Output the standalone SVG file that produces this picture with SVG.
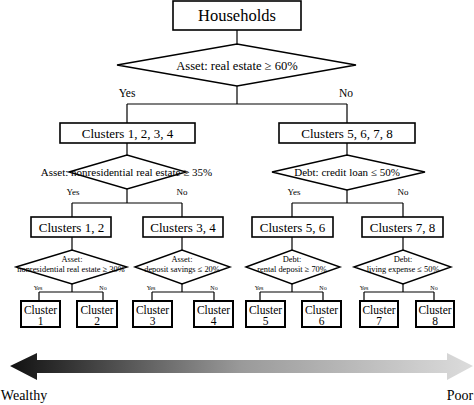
<svg xmlns="http://www.w3.org/2000/svg" width="474" height="405" viewBox="0 0 474 405" font-family="'Liberation Serif', 'DejaVu Serif', serif">
<style>
.box{fill:#fff;stroke:#000;stroke-width:1.6}
.cbox{fill:#fff;stroke:#000;stroke-width:2}
.dia{fill:#fff;stroke:#000;stroke-width:1.4}
.ln{fill:none;stroke:#000;stroke-width:1.2}
text{font-family:'Liberation Serif', 'DejaVu Serif', serif;fill:#000;text-anchor:middle}
.t1{font-size:16.5px}
.t2{font-size:12.6px}
.t3{font-size:13px}
.t4{font-size:11px}
.t5{font-size:8.4px}
.c{font-size:11.5px}
.y1{font-size:11.5px}
.y2{font-size:9px}
.y3{font-size:6px}
.e{font-size:14px}
</style>
<defs>
<linearGradient id="g" x1="10" y1="0" x2="473" y2="0" gradientUnits="userSpaceOnUse">
<stop offset="0" stop-color="#111"/>
<stop offset="0.5" stop-color="#9a9a9a"/>
<stop offset="1" stop-color="#dcdcdc"/>
</linearGradient>
</defs>
<g id="connectors">
<path class="ln" d="M237,30V44M237,86V104M127,104H347M127,104V123M347,104V123"/>
<path class="ln" d="M127,143V155M347,143V155M127,189V203M72,203H182M72,203V217M182,203V217M347,190V203M292,203H403M292,203V217M403,203V217"/>
<path class="ln" d="M72,237V250M182,237V250M292,237V250M403,237V250"/>
<path class="ln" d="M72,284V292M39,292H103M39,292V301M103,292V301"/>
<path class="ln" d="M182,284V292M152,292H214M152,292V301M214,292V301"/>
<path class="ln" d="M292,284V292M260,292H323M260,292V301M323,292V301"/>
<path class="ln" d="M403,284V292M364,292H434M364,292V301M434,292V301"/>
</g>
<g id="households"><rect class="box" x="173" y="1" width="128" height="29"/><text class="t1" x="237" y="21">Households</text></g>
<g id="d0"><polygon class="dia" points="117,65 237,44 356,65 237,86"/><text class="t2" x="237" y="69.5">Asset: real estate ≥ 60%</text></g>
<g id="lbl0"><text class="y1" x="127" y="97">Yes</text><text class="y1" x="346" y="97">No</text></g>
<g id="c1234"><rect class="box" x="60" y="123" width="135" height="20"/><text class="t3" x="127.5" y="137.5">Clusters 1, 2, 3, 4</text></g>
<g id="c5678"><rect class="box" x="279" y="123" width="136" height="20"/><text class="t3" x="347" y="137.5">Clusters 5, 6, 7, 8</text></g>
<g id="dL"><polygon class="dia" points="69,172 127,155 186,172 127,189"/><text class="t4" x="126.5" y="176">Asset: nonresidential real estate ≥ 35%</text></g>
<g id="dR"><polygon class="dia" points="272,172 347,155 425,172 347,190"/><text class="t4" x="347" y="176">Debt: credit loan ≤ 50%</text></g>
<g id="lbl1"><text class="y2" x="73" y="195">Yes</text><text class="y2" x="182" y="195">No</text><text class="y2" x="294" y="195">Yes</text><text class="y2" x="403" y="195">No</text></g>
<g id="c12"><rect class="box" x="31" y="217" width="80" height="20"/><text class="t3" x="71.5" y="232">Clusters 1, 2</text></g>
<g id="c34"><rect class="box" x="143" y="217" width="80" height="20"/><text class="t3" x="183" y="232">Clusters 3, 4</text></g>
<g id="c56"><rect class="box" x="252" y="217" width="81" height="20"/><text class="t3" x="292.5" y="232">Clusters 5, 6</text></g>
<g id="c78"><rect class="box" x="362" y="217" width="81" height="20"/><text class="t3" x="402.5" y="232">Clusters 7, 8</text></g>
<g id="d1"><polygon class="dia" points="16,267 72,250 127,267 72,284"/><text class="t5" x="72" y="262">Asset:</text><text class="t5" x="71" y="272">nonresidential real estate ≥ 30%</text></g>
<g id="d2"><polygon class="dia" points="135,267 182,250 230,267 182,284"/><text class="t5" x="182" y="262">Asset:</text><text class="t5" x="182" y="272">deposit savings ≤ 20%</text></g>
<g id="d3"><polygon class="dia" points="246,267 292,250 340,267 292,284"/><text class="t5" x="292" y="262">Debt:</text><text class="t5" x="292" y="272">rental deposit ≥ 70%</text></g>
<g id="d4"><polygon class="dia" points="354,267 403,250 451,267 403,284"/><text class="t5" x="403" y="262">Debt:</text><text class="t5" x="403" y="272">living expense ≤ 50%</text></g>
<g id="lbl2"><text class="y3" x="38" y="290">Yes</text><text class="y3" x="103" y="290">No</text><text class="y3" x="151" y="290">Yes</text><text class="y3" x="214" y="290">No</text><text class="y3" x="259" y="290">Yes</text><text class="y3" x="323" y="290">No</text><text class="y3" x="364" y="290">Yes</text><text class="y3" x="434" y="290">No</text></g>
<g id="k1"><rect class="cbox" x="21" y="301" width="39" height="26"/><text class="c" x="40.5" y="314">Cluster</text><text class="c" x="40.5" y="325">1</text></g>
<g id="k2"><rect class="cbox" x="77" y="301" width="40" height="26"/><text class="c" x="97" y="314">Cluster</text><text class="c" x="97" y="325">2</text></g>
<g id="k3"><rect class="cbox" x="133" y="301" width="39" height="26"/><text class="c" x="152.5" y="314">Cluster</text><text class="c" x="152.5" y="325">3</text></g>
<g id="k4"><rect class="cbox" x="194" y="301" width="39" height="26"/><text class="c" x="213.5" y="314">Cluster</text><text class="c" x="213.5" y="325">4</text></g>
<g id="k5"><rect class="cbox" x="246" y="301" width="39" height="26"/><text class="c" x="265.5" y="314">Cluster</text><text class="c" x="265.5" y="325">5</text></g>
<g id="k6"><rect class="cbox" x="302" y="301" width="39" height="26"/><text class="c" x="321.5" y="314">Cluster</text><text class="c" x="321.5" y="325">6</text></g>
<g id="k7"><rect class="cbox" x="360" y="301" width="38" height="26"/><text class="c" x="379" y="314">Cluster</text><text class="c" x="379" y="325">7</text></g>
<g id="k8"><rect class="cbox" x="416" y="301" width="38" height="26"/><text class="c" x="435" y="314">Cluster</text><text class="c" x="435" y="325">8</text></g>
<g id="scale">
<polygon fill="url(#g)" points="10,366 37,353 37,360 447,360 447,353 473,366 447,380 447,373 37,373 37,380"/>
<text class="e" x="24" y="400">Wealthy</text>
<text class="e" x="460" y="400">Poor</text>
</g>
</svg>
